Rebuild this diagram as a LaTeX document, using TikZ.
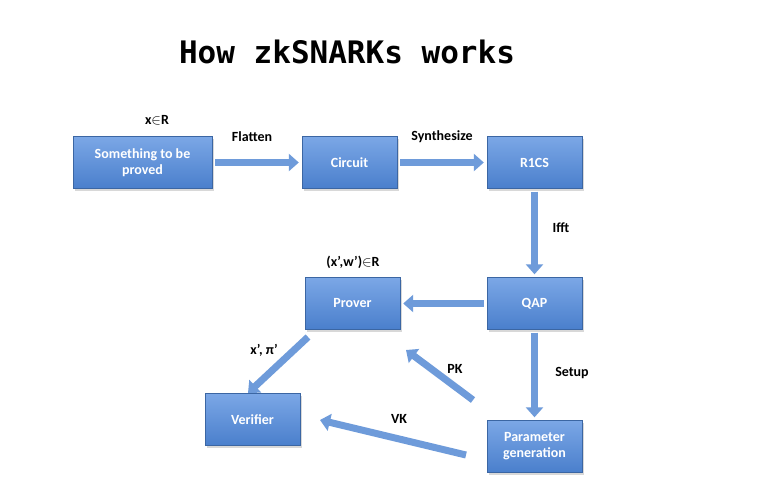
\documentclass[tikz,border=0pt]{standalone}
\usepackage{fontspec}
\setmainfont{Carlito}
\newfontfamily\titlefont{DejaVu Sans Mono}
\usetikzlibrary{arrows.meta,shadows}
\definecolor{boxtop}{HTML}{7BA7E6}
\definecolor{boxbot}{HTML}{4A7FCC}
\definecolor{arr}{HTML}{6E9BDA}
\begin{document}
\begin{tikzpicture}[x=1pt,y=-1pt,
  box/.style={draw=boxbot!80!black, line width=0.4pt, top color=boxtop, bottom color=boxbot,
    minimum width=95pt, minimum height=52pt, text=white, font=\bfseries\fontsize{14}{16}\selectfont,
    align=center, drop shadow={shadow xshift=2pt,shadow yshift=-2pt,opacity=0.3}},
  conn/.style={line width=7pt, draw=arr, -{Triangle[width=17pt,length=10pt]}, shorten <=3pt, shorten >=3pt},
  lab/.style={font=\bfseries\fontsize{14}{16}\selectfont, text=black}]
\useasboundingbox (0,0) rectangle (784,491);
\fill[white] (0,0) rectangle (784,491);
\node[font=\titlefont\bfseries\fontsize{31}{34}\selectfont] (title) at (347,52) {How zkSNARKs works};
\node[box, minimum width=139pt] (s) at (142.5,162.5) {Something to be\\proved};
\node[box] (c) at (349.5,162.5) {Circuit};
\node[box] (r) at (534.5,162.5) {R1CS};
\node[box] (q) at (534.5,303.5) {QAP};
\node[box] (p) at (352.5,303.5) {Prover};
\node[box] (v) at (252.5,419.5) {Verifier};
\node[box] (g) at (534.5,446.5) {Parameter\\generation};
\node[lab] (l0) at (157,120) {x$\in$R};
\node[lab] (l1) at (252,137) {Flatten};
\node[lab] (l2) at (442,137) {Synthesize};
\node[lab] (l3) at (561,228) {Ifft};
\node[lab] (l4) at (353,262) {(x’,w’)$\in$R};
\node[lab] (l5) at (572,373) {Setup};
\node[lab] (l6) at (455,369) {PK};
\node[lab] (l7) at (399,419) {VK};
\node[lab] (l8) at (264,350) {x’, π’};
\draw[conn] (s) -- (c);
\draw[conn] (c) -- (r);
\draw[conn] (r) -- (q);
\draw[conn] (q) -- (p);
\draw[conn] (q) -- (g);
\coordinate (pk1) at (473,400);
\coordinate (pk2) at (406,350);
\draw[conn, shorten <=0pt, shorten >=0pt] (pk1) -- (pk2);
\coordinate (vk1) at (466,455);
\coordinate (vk2) at (320,420);
\draw[conn, shorten <=0pt, shorten >=0pt] (vk1) -- (vk2);
\coordinate (x1) at (308,337);
\coordinate (x2) at (248,393);
\draw[conn, shorten <=0pt, shorten >=0pt] (x1) -- (x2);
\end{tikzpicture}
\end{document}
